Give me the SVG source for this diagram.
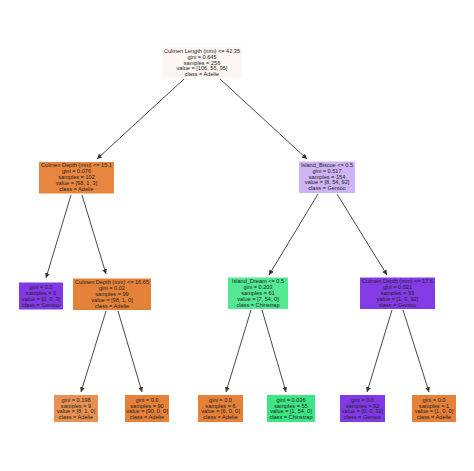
<svg xmlns="http://www.w3.org/2000/svg" width="474" height="471" viewBox="0 0 474 471">
<style>
  text { font-family: "Liberation Sans", Arial, sans-serif; font-size: 5.6px; fill: #222; text-anchor: middle; }
  .edge { stroke: #333; stroke-width: 0.9; fill: none; marker-end: url(#arr); }
</style>
<defs>
  <marker id="arr" markerUnits="userSpaceOnUse" markerWidth="6" markerHeight="6" refX="5" refY="2.5" orient="auto">
    <path d="M0,0 L5,2.5 L0,5 Z" fill="#333"/>
  </marker>
</defs>
<rect width="474" height="471" fill="#fff"/>
<g id="edges">
  <line class="edge" x1="184" y1="79" x2="97" y2="159"/>
  <line class="edge" x1="220" y1="79" x2="307" y2="159"/>
  <line class="edge" x1="71" y1="195" x2="46" y2="278"/>
  <line class="edge" x1="82" y1="195" x2="106" y2="274"/>
  <line class="edge" x1="318" y1="194" x2="269" y2="275"/>
  <line class="edge" x1="337" y1="194" x2="387" y2="275"/>
  <line class="edge" x1="106" y1="311" x2="81" y2="392"/>
  <line class="edge" x1="118" y1="311" x2="142" y2="392"/>
  <line class="edge" x1="251" y1="310" x2="226" y2="392"/>
  <line class="edge" x1="262" y1="310" x2="286" y2="392"/>
  <line class="edge" x1="392" y1="310" x2="367" y2="392"/>
  <line class="edge" x1="403" y1="310" x2="429" y2="392"/>
</g>
<g id="root">
  <rect x="162" y="47" width="80" height="31" fill="#fdf6f2"/>
  <text x="202" y="52.7">Culmen Length (mm) &lt;= 42.35</text>
  <text x="202" y="58.6">gini = 0.645</text>
  <text x="202" y="64.5">samples = 256</text>
  <text x="202" y="70.4">value = [106, 55, 95]</text>
  <text x="202" y="76.3">class = Adelie</text>
</g>
<g id="n1">
  <rect x="39" y="162" width="75" height="31.5" fill="#e68641"/>
  <text x="76.5" y="167.2">Culmen Depth (mm) &lt;= 15.1</text>
  <text x="76.5" y="173.1">gini = 0.076</text>
  <text x="76.5" y="179">samples = 102</text>
  <text x="76.5" y="184.9">value = [98, 1, 3]</text>
  <text x="76.5" y="190.8">class = Adelie</text>
</g>
<g id="n2">
  <rect x="299" y="161.5" width="56" height="31.5" fill="#cfb4f5"/>
  <text x="327" y="166.7">Island_Biscoe &lt;= 0.5</text>
  <text x="327" y="172.6">gini = 0.517</text>
  <text x="327" y="178.5">samples = 154</text>
  <text x="327" y="184.4">value = [8, 54, 92]</text>
  <text x="327" y="190.3">class = Gentoo</text>
</g>
<g id="n3">
  <rect x="19" y="282.5" width="44" height="27" fill="#8139e5"/>
  <text x="41" y="289.1">gini = 0.0</text>
  <text x="41" y="295">samples = 3</text>
  <text x="41" y="300.9">value = [0, 0, 3]</text>
  <text x="41" y="306.8">class = Gentoo</text>
</g>
<g id="n4">
  <rect x="73" y="278.5" width="78" height="31.5" fill="#e5823a"/>
  <text x="112" y="284">Culmen Depth (mm) &lt;= 16.65</text>
  <text x="112" y="289.9">gini = 0.02</text>
  <text x="112" y="295.8">samples = 99</text>
  <text x="112" y="301.7">value = [98, 1, 0]</text>
  <text x="112" y="307.6">class = Adelie</text>
</g>
<g id="n5">
  <rect x="228" y="277.5" width="60" height="31.5" fill="#53e891"/>
  <text x="258" y="283">Island_Dream &lt;= 0.5</text>
  <text x="258" y="288.9">gini = 0.203</text>
  <text x="258" y="294.8">samples = 61</text>
  <text x="258" y="300.7">value = [7, 54, 0]</text>
  <text x="258" y="306.6">class = Chinstrap</text>
</g>
<g id="n6">
  <rect x="360" y="277.5" width="75" height="31.5" fill="#823be5"/>
  <text x="397.5" y="283">Culmen Depth (mm) &lt;= 17.6</text>
  <text x="397.5" y="288.9">gini = 0.021</text>
  <text x="397.5" y="294.8">samples = 93</text>
  <text x="397.5" y="300.7">value = [1, 0, 92]</text>
  <text x="397.5" y="306.6">class = Gentoo</text>
</g>
<g id="n7">
  <rect x="54" y="395" width="44" height="27" fill="#e89152"/>
  <text x="76" y="401.6">gini = 0.198</text>
  <text x="76" y="407.5">samples = 9</text>
  <text x="76" y="413.4">value = [8, 1, 0]</text>
  <text x="76" y="419.3">class = Adelie</text>
</g>
<g id="n8">
  <rect x="125" y="395" width="44" height="27" fill="#e58139"/>
  <text x="147" y="401.6">gini = 0.0</text>
  <text x="147" y="407.5">samples = 90</text>
  <text x="147" y="413.4">value = [90, 0, 0]</text>
  <text x="147" y="419.3">class = Adelie</text>
</g>
<g id="n9">
  <rect x="198" y="395" width="45" height="27" fill="#e58139"/>
  <text x="220.5" y="401.6">gini = 0.0</text>
  <text x="220.5" y="407.5">samples = 6</text>
  <text x="220.5" y="413.4">value = [6, 0, 0]</text>
  <text x="220.5" y="419.3">class = Adelie</text>
</g>
<g id="n10">
  <rect x="267" y="395" width="48" height="27" fill="#3de684"/>
  <text x="291" y="401.6">gini = 0.036</text>
  <text x="291" y="407.5">samples = 55</text>
  <text x="291" y="413.4">value = [1, 54, 0]</text>
  <text x="291" y="419.3">class = Chinstrap</text>
</g>
<g id="n11">
  <rect x="340" y="395" width="45" height="27" fill="#8139e5"/>
  <text x="362.5" y="401.6">gini = 0.0</text>
  <text x="362.5" y="407.5">samples = 92</text>
  <text x="362.5" y="413.4">value = [0, 0, 92]</text>
  <text x="362.5" y="419.3">class = Gentoo</text>
</g>
<g id="n12">
  <rect x="412" y="395" width="44" height="27" fill="#e58139"/>
  <text x="434" y="401.6">gini = 0.0</text>
  <text x="434" y="407.5">samples = 1</text>
  <text x="434" y="413.4">value = [1, 0, 0]</text>
  <text x="434" y="419.3">class = Adelie</text>
</g>
</svg>
